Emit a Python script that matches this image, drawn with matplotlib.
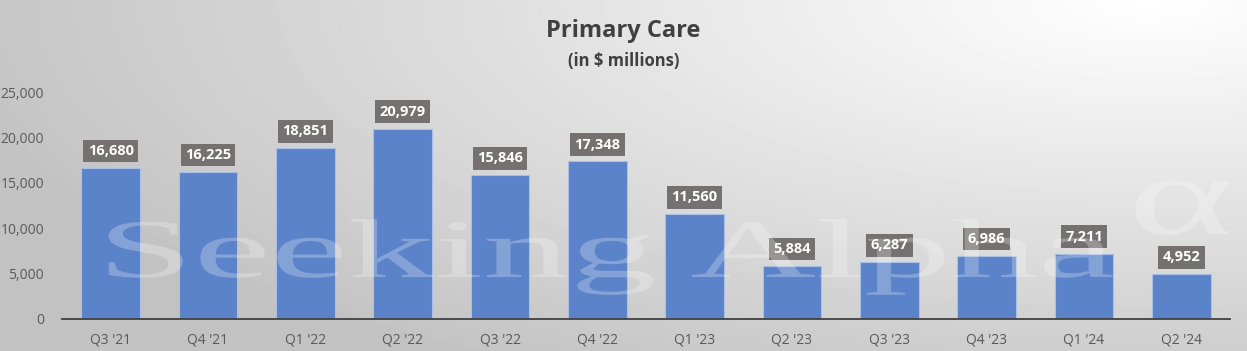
import numpy as np
import matplotlib.pyplot as plt
from matplotlib import patheffects
from matplotlib.transforms import Affine2D
from matplotlib.font_manager import FontProperties
from matplotlib.textpath import text_to_path

quarters = ["Q3 '21", "Q4 '21", "Q1 '22", "Q2 '22", "Q3 '22", "Q4 '22",
            "Q1 '23", "Q2 '23", "Q3 '23", "Q4 '23", "Q1 '24", "Q2 '24"]
revenue = [16680, 16225, 18851, 20979, 15846, 17348,
           11560, 5884, 6287, 6986, 7211, 4952]

plt.rcParams['font.family'] = ['Open Sans', 'DejaVu Sans']

W, H = 1247, 351
fig = plt.figure(figsize=(W / 100, H / 100), dpi=100)


class Stretch(patheffects.AbstractPathEffect):
    # widen glyphs horizontally around x0 (display pixels)
    def __init__(self, sx, x0):
        super().__init__()
        self.sx = sx
        self.x0 = x0

    def draw_path(self, renderer, gc, tpath, affine, rgbFace=None):
        t = affine + Affine2D().translate(-self.x0, 0).scale(self.sx, 1).translate(self.x0, 0)
        renderer.draw_path(gc, tpath, t, rgbFace)


# gradient background, light near the top right
bg = fig.add_axes([0, 0, 1, 1], zorder=-10)
yy, xx = np.mgrid[0:H, 0:W]
d = np.sqrt(((1150 - xx) / W) ** 2 + (yy / H * 0.8) ** 2)
shade = 1.0 - 0.24 * np.clip(d / 1.0, 0, 1)
bg.imshow(shade, cmap='gray', vmin=0, vmax=1, aspect='auto',
          extent=[0, 1, 0, 1], origin='upper')
bg.axis('off')

ax = fig.add_axes([62 / W, (H - 319) / H, 1168 / W, 227 / H])
ax.patch.set_alpha(0)
x = np.arange(len(quarters))
ax.bar(x, revenue, width=0.6, color='#5b83c9', edgecolor='#a9bfe6',
       linewidth=0.8, zorder=2)

for xi, v in zip(x, revenue):
    ax.annotate(f"{v:,}", (xi, v), xytext=(0, 12), textcoords='offset points',
                ha='center', va='center', color='white', fontsize=10.5,
                fontweight='bold', zorder=4,
                bbox=dict(boxstyle='square,pad=0.3', fc='#767171', ec='none'))

ax.set_xlim(-0.5, len(quarters) - 0.5)
ax.set_ylim(0, 25000)
ax.set_yticks(range(0, 25001, 5000))
ax.set_yticklabels([f"{t:,}" for t in range(0, 25001, 5000)])
ax.set_xticks(x)
ax.set_xticklabels(quarters)
ax.tick_params(length=0, colors='#595959', labelsize=10)
ax.tick_params(axis='x', pad=10)
ax.tick_params(axis='y', pad=13)
for s in ['top', 'right', 'left']:
    ax.spines[s].set_visible(False)
ax.spines['bottom'].set_color('#404040')
ax.spines['bottom'].set_linewidth(1.3)

# watermark: wide serif lettering over the bars
wm_fp = FontProperties(family='Liberation Serif', size=60)
wm_w = text_to_path.get_text_width_height_descent("Seeking Alpha", wm_fp, ismath=False)[0]
wm_sx = 1018.0 / (wm_w * 100 / 72)
fig.text(97 / W, (H - 277) / H, "Seeking Alpha", ha='left', va='baseline',
         fontproperties=wm_fp, color='white', alpha=0.25, zorder=3,
         path_effects=[Stretch(wm_sx, 97)])
fig.text(1128 / W, (H - 234) / H, "\u03b1", ha='left', va='baseline',
         fontproperties=FontProperties(family='Liberation Serif', size=82),
         color='white', alpha=0.25, zorder=3,
         path_effects=[Stretch(wm_sx * 0.85, 1128)])

fig.text(0.5, 1 - 31 / H, "Primary Care", ha='center', va='center', fontsize=17,
         fontweight='bold', color='#404040')
fig.text(0.5, 1 - 61 / H, "(in $ millions)", ha='center', va='center', fontsize=12,
         fontweight='bold', color='#404040')

fig.savefig('out.png', dpi=100)
